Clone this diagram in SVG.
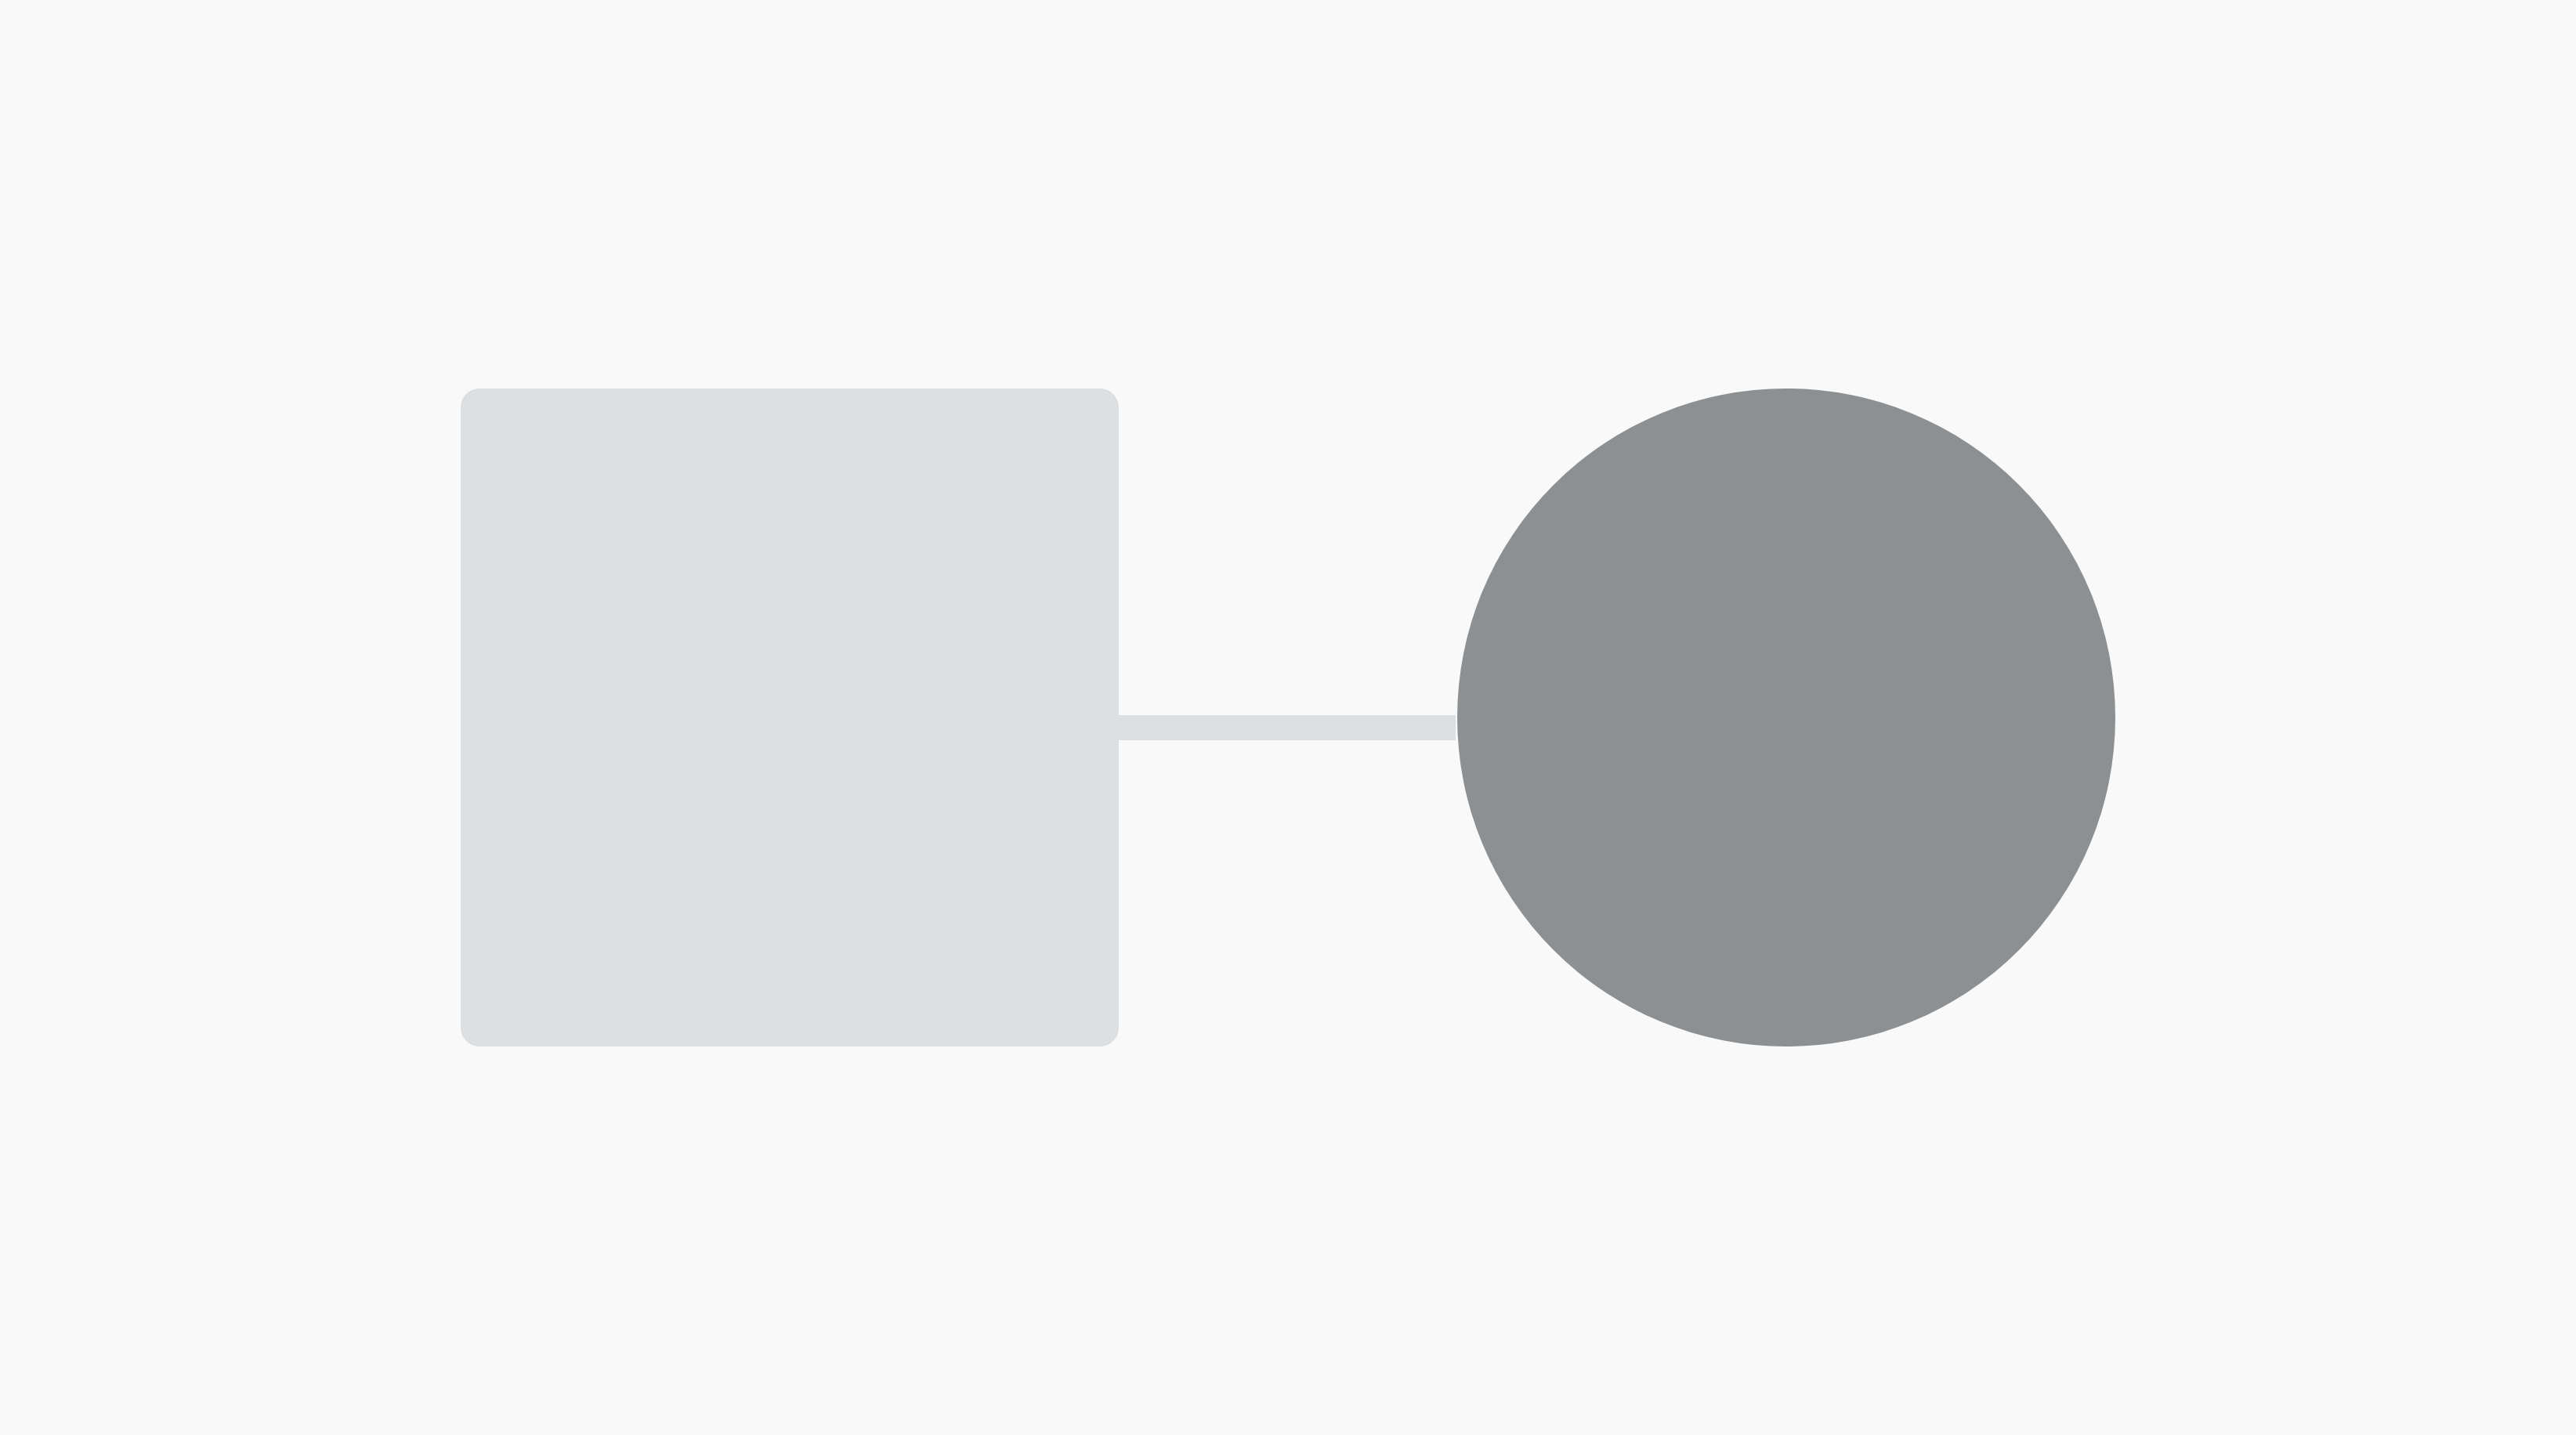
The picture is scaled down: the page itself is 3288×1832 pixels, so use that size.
<svg xmlns="http://www.w3.org/2000/svg" width="3288" height="1832" viewBox="0 0 3288 1832">
  <style>
    .bg { fill: #f9f9f9; }
    .box { fill: #dcdfe2; }
    .disc { fill: #8c9093; }
    .link { stroke: #dcdfe2; stroke-width: 32; fill: none; }
  </style>
  <rect class="bg" x="0" y="0" width="3288" height="1832"/>
  <g id="connectors">
    <line class="link" x1="1420" y1="929" x2="1858" y2="929"/>
  </g>
  <g id="node-square">
    <rect class="box" x="588" y="496" width="840" height="840" rx="24" ry="24"/>
  </g>
  <g id="node-circle">
    <circle class="disc" cx="2280" cy="916" r="420"/>
  </g>
</svg>
